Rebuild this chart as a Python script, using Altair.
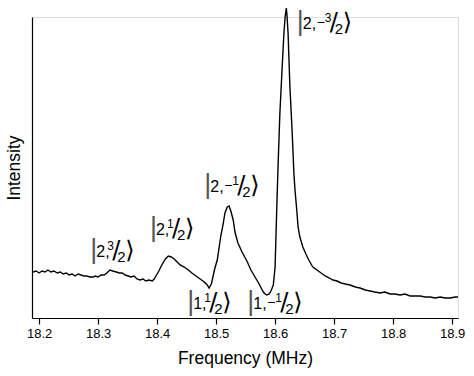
import altair as alt
import pandas as pd

# Spectrum (frequency in MHz, intensity in arbitrary units)
freq = [18.190, 18.195, 18.200, 18.205, 18.210, 18.215, 18.220, 18.225, 18.231, 18.236,
        18.241, 18.246, 18.251, 18.256, 18.261, 18.266, 18.271, 18.276, 18.281, 18.286,
        18.292, 18.295, 18.300, 18.305, 18.310, 18.315, 18.320, 18.325, 18.331, 18.336,
        18.341, 18.346, 18.351, 18.356, 18.361, 18.366, 18.371, 18.376, 18.381, 18.386,
        18.392, 18.395, 18.398, 18.403, 18.408, 18.414, 18.419, 18.424, 18.429, 18.434,
        18.439, 18.446, 18.453, 18.459, 18.466, 18.473, 18.480, 18.485, 18.488, 18.492,
        18.495, 18.498, 18.502, 18.505, 18.508, 18.512, 18.515, 18.519, 18.522, 18.525,
        18.529, 18.532, 18.537, 18.544, 18.553, 18.559, 18.566, 18.573, 18.580, 18.583,
        18.586, 18.590, 18.593, 18.597, 18.600, 18.603, 18.605, 18.608, 18.612, 18.615,
        18.617, 18.619, 18.620, 18.622, 18.625, 18.629, 18.632, 18.634, 18.636, 18.639,
        18.642, 18.647, 18.653, 18.658, 18.664, 18.671, 18.678, 18.685, 18.692, 18.698,
        18.705, 18.712, 18.719, 18.727, 18.736, 18.744, 18.753, 18.761, 18.769, 18.778,
        18.786, 18.795, 18.803, 18.812, 18.820, 18.829, 18.837, 18.846, 18.854, 18.863,
        18.871, 18.880, 18.888, 18.897, 18.905, 18.910]
intensity = [46, 47, 45, 47, 46, 48, 46, 47, 45, 46,
             44, 45, 43, 44, 42, 44, 43, 42, 42, 41,
             41, 42, 41, 43, 43, 45, 48, 47, 46, 45,
             45, 43, 42, 41, 42, 39, 38, 39, 37, 38,
             37, 39, 42, 47, 53, 59, 62, 61, 59, 56,
             53, 51, 48, 45, 42, 39, 36, 33, 30, 34,
             42, 50, 58, 70, 82, 94, 105, 111, 112, 107,
             98, 86, 75, 66, 56, 48, 41, 34, 26, 24,
             23, 24, 27, 33, 51, 113, 151, 203, 251, 285,
             301, 310, 304, 285, 233, 185, 143, 126, 113, 91,
             81, 71, 63, 57, 51, 48, 45, 42, 40, 38,
             37, 35, 34, 33, 31, 30, 28, 27, 26, 25,
             26, 24, 24, 23, 24, 22, 22, 22, 21, 21,
             20, 21, 20, 20, 21, 21]

# State labels |F, m⟩ with m = sign * num/den
label_F = ["2", "2", "2", "2", "1", "1"]
label_sign = ["", "", "−", "−", "", "−"]
label_num = ["3", "1", "1", "3", "1", "1"]
label_den = ["2", "2", "2", "2", "2", "2"]
label_freq = [18.292, 18.393, 18.485, 18.642, 18.456, 18.558]
label_int = [67, 89, 132, 295, 15, 15]

tick_values = [18.2, 18.25, 18.3, 18.35, 18.4, 18.45, 18.5, 18.55, 18.6,
               18.65, 18.7, 18.75, 18.8, 18.85, 18.9]

df = pd.DataFrame({"f": freq, "I": intensity})
lab = pd.DataFrame({"F": [s + "," for s in label_F], "sign": label_sign,
                    "num": label_num, "den": label_den,
                    "f": label_freq, "I": label_int})

xscale = alt.Scale(domain=[18.188, 18.910], nice=False, zero=False)
yscale = alt.Scale(domain=[0, 301], nice=False, zero=True)

major = "abs(datum.value*10 - round(datum.value*10)) < 0.001"

line = alt.Chart(df).mark_line(color="black", strokeWidth=1.4, clip=False).encode(
    x=alt.X("f:Q", scale=xscale, axis=alt.Axis(
        values=tick_values, title="Frequency (MHz)",
        labelExpr=f"{major} ? format(datum.value, '.1f') : ''",
        tickSize={"condition": {"test": major, "value": 6}, "value": 3},
        grid=False, domainColor="black", tickColor="black", labelColor="black",
        labelFontSize=13, labelPadding=3, titleFontSize=17.5, titleFontWeight="normal",
        titlePadding=9, titleColor="black", domainWidth=1.2, tickWidth=1.2)),
    y=alt.Y("I:Q", scale=yscale, axis=alt.Axis(
        title="Intensity", ticks=False, labels=False, grid=False,
        domainColor="black", domainWidth=1.2, titleFontSize=17.5,
        titleFontWeight="normal", titlePadding=9, titleColor="black")),
)


def ket_layers(d, shift):
    base = alt.Chart(d).encode(x=alt.X("f:Q", scale=xscale),
                               y=alt.Y("I:Q", scale=yscale))
    common = dict(align="left", baseline="middle", color="black",
                  font="Liberation Sans")
    bar = base.mark_text(text="|", fontSize=27, dx=-3, dy=-1,
                         **{**common, "color": "#555"})
    first = base.mark_text(fontSize=16, dx=3, dy=1, **common).encode(text="F:N")
    sign = base.mark_text(fontSize=14, dx=17, dy=0, **common).encode(text="sign:N")
    num = base.mark_text(fontSize=12, dx=14 + shift, dy=-5, **common).encode(text="num:N")
    slash = base.mark_text(text="/", fontSize=24, dx=19 + shift, dy=0,
                           **{**common, "font": "DejaVu Sans"})
    den = base.mark_text(fontSize=15, dx=24 + shift, dy=6, **common).encode(text="den:N")
    brk = base.mark_text(text="⟩", fontSize=24, dx=32 + shift, dy=0,
                         **{**common, "font": "DejaVu Sans"})
    return [bar, first, sign, num, slash, den, brk]


plain = lab[lab["sign"] == ""]
minus = lab[lab["sign"] != ""]

layers = [line] + ket_layers(plain, 0) + ket_layers(minus, 11)

chart = alt.layer(*layers).properties(
    width=426, height=301,
    autosize=alt.AutoSizeParams(type="none"),
    padding={"left": 32, "top": 17, "right": 16, "bottom": 58},
).configure_view(stroke=None).configure(font="Liberation Sans", background="white")

chart.save("out.html", embed_options={"renderer": "svg", "actions": False})
